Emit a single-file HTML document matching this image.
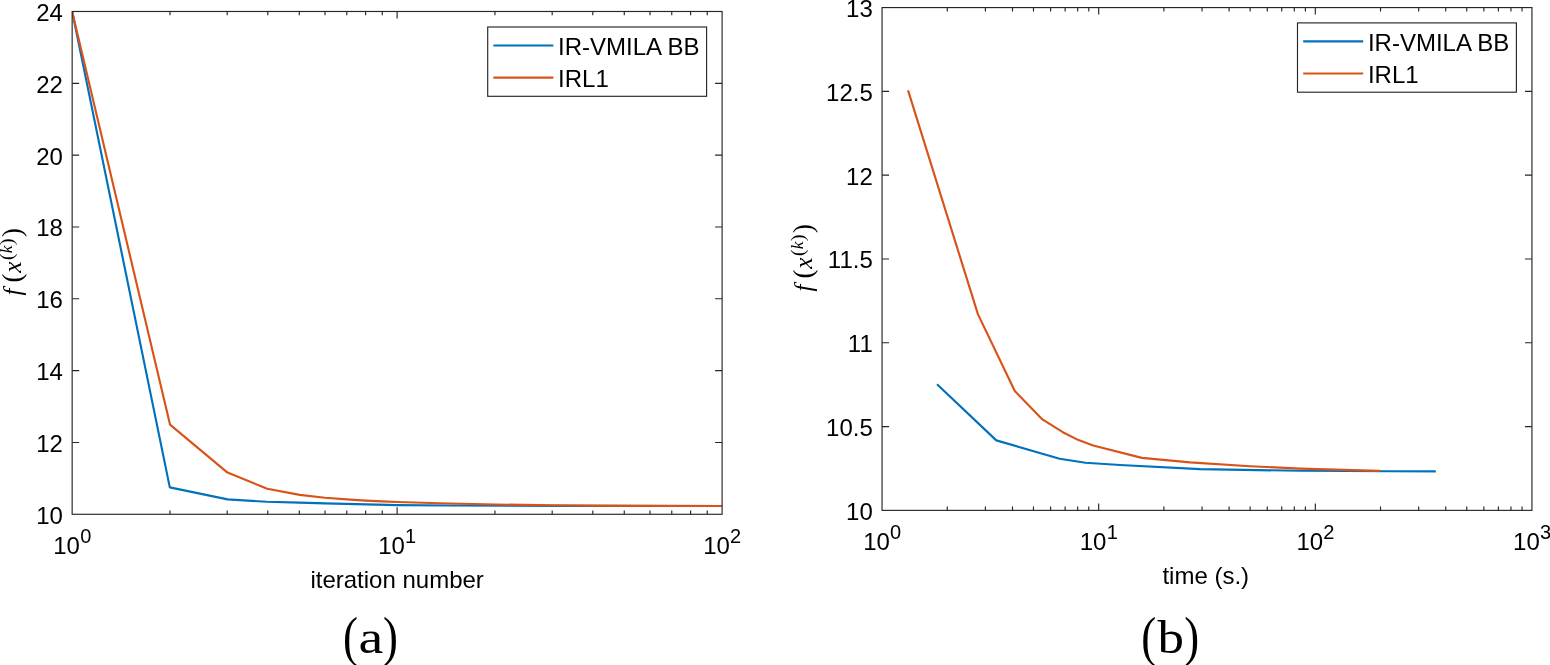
<!DOCTYPE html><html><head><meta charset="utf-8"><style>html,body{margin:0;padding:0;background:#fff;overflow:hidden}svg{display:block}</style><style>.tl{font-family:"Liberation Sans",sans-serif;font-size:24px;fill:#000}.sup{font-family:"Liberation Sans",sans-serif;font-size:20px;fill:#000}.yl{font-family:"Liberation Serif",serif;font-size:25px;fill:#000}.cap{font-family:"Liberation Serif",serif;font-size:48px;fill:#000}</style></head><body><svg width="1550" height="665" viewBox="0 0 1550 665"><rect width="1550" height="665" fill="#fff"/><clipPath id="c72"><rect x="72.15" y="11.48" width="649.95" height="502.8"/></clipPath><g clip-path="url(#c72)" fill="none" stroke-width="2.15" stroke-linejoin="round" stroke-linecap="butt"><polyline stroke="#0072BD" points="72.15,11.48 169.8,487.4 227.6,499.4 266.8,501.8 299.3,502.6 325,503.4 397.1,505.1 450,505.5 560,505.85 722.1,506"/><polyline stroke="#D95319" points="72.15,11.48 170,424.6 227.5,472.6 267.2,488.7 299.8,494.9 324.9,497.7 346.8,499.4 365.7,500.6 382.3,501.4 397.1,502 440,503.2 495,504.5 552,505.3 590,505.6 650,505.85 722.1,506"/></g><path d="M169.98 514.28v-3.8M169.98 11.48v3.8M227.2 514.28v-3.8M227.2 11.48v3.8M267.8 514.28v-3.8M267.8 11.48v3.8M299.3 514.28v-3.8M299.3 11.48v3.8M325.03 514.28v-3.8M325.03 11.48v3.8M346.79 514.28v-3.8M346.79 11.48v3.8M365.63 514.28v-3.8M365.63 11.48v3.8M382.25 514.28v-3.8M382.25 11.48v3.8M397.12 514.28v-7.0M397.12 11.48v7.0M494.95 514.28v-3.8M494.95 11.48v3.8M552.18 514.28v-3.8M552.18 11.48v3.8M592.78 514.28v-3.8M592.78 11.48v3.8M624.27 514.28v-3.8M624.27 11.48v3.8M650 514.28v-3.8M650 11.48v3.8M671.76 514.28v-3.8M671.76 11.48v3.8M690.61 514.28v-3.8M690.61 11.48v3.8M707.23 514.28v-3.8M707.23 11.48v3.8M72.15 442.45h7.0M722.1 442.45h-7.0M72.15 370.62h7.0M722.1 370.62h-7.0M72.15 298.79h7.0M722.1 298.79h-7.0M72.15 226.97h7.0M722.1 226.97h-7.0M72.15 155.14h7.0M722.1 155.14h-7.0M72.15 83.31h7.0M722.1 83.31h-7.0" stroke="#262626" stroke-width="1.15" fill="none"/><rect x="72.15" y="11.48" width="649.95" height="502.8" fill="none" stroke="#262626" stroke-width="1.15"/><text x="62.85" y="523.68" text-anchor="end" class="tl">10</text><text x="62.85" y="451.85" text-anchor="end" class="tl">12</text><text x="62.85" y="380.02" text-anchor="end" class="tl">14</text><text x="62.85" y="308.19" text-anchor="end" class="tl">16</text><text x="62.85" y="236.37" text-anchor="end" class="tl">18</text><text x="62.85" y="164.54" text-anchor="end" class="tl">20</text><text x="62.85" y="92.71" text-anchor="end" class="tl">22</text><text x="62.85" y="20.88" text-anchor="end" class="tl">24</text><text x="53.25" y="553.78" class="tl">10</text><text x="80.15" y="543.08" class="sup">0</text><text x="378.23" y="553.78" class="tl">10</text><text x="405.12" y="543.08" class="sup">1</text><text x="703.2" y="553.78" class="tl">10</text><text x="730.1" y="543.08" class="sup">2</text><text x="397.12" y="587.7" text-anchor="middle" class="tl">iteration number</text><rect x="487.7" y="27" width="218.9" height="69.3" fill="#fff" stroke="#262626" stroke-width="1.15"/><path d="M493.4 45.45h60" stroke="#0072BD" stroke-width="2.15"/><path d="M493.4 77.55h60" stroke="#D95319" stroke-width="2.15"/><text x="558.1" y="55.1" class="tl">IR-VMILA BB</text><text x="558.1" y="87.2" class="tl">IRL1</text><text transform="translate(0,297) rotate(-90)" class="yl"><tspan x="1.6" y="21.4" font-size="25" font-style="italic">f</tspan><tspan x="14.4" y="21.4" font-size="27" font-style="normal">(</tspan><tspan x="24.3" y="21.4" font-size="25.5" font-style="italic">x</tspan><tspan x="36.9" y="12.9" font-size="19.5" font-style="normal">(</tspan><tspan x="43.65" y="12.4" font-size="17.5" font-style="italic">k</tspan><tspan x="52.1" y="12.9" font-size="19.5" font-style="normal">)</tspan><tspan x="59.9" y="21.4" font-size="27" font-style="normal">)</tspan></text><clipPath id="c882"><rect x="882.05" y="7.58" width="649.9" height="502.8"/></clipPath><g clip-path="url(#c882)" fill="none" stroke-width="2.15" stroke-linejoin="round" stroke-linecap="butt"><polyline stroke="#0072BD" points="937,384.3 996.3,440.4 1059.6,458.8 1085.4,462.7 1120,465 1200,469.1 1300,470.8 1390,471.2 1435.8,471.3"/><polyline stroke="#D95319" points="908.05,90.4 977.9,314.1 1014.8,391 1042.4,419.4 1062.8,432.2 1078.5,440.1 1093.2,445.5 1141.9,457.9 1190,462.4 1250,466.2 1300,468.6 1379.8,470.85"/></g><path d="M947.26 510.38v-3.8M947.26 7.58v3.8M985.41 510.38v-3.8M985.41 7.58v3.8M1012.48 510.38v-3.8M1012.48 7.58v3.8M1033.47 510.38v-3.8M1033.47 7.58v3.8M1050.62 510.38v-3.8M1050.62 7.58v3.8M1065.13 510.38v-3.8M1065.13 7.58v3.8M1077.69 510.38v-3.8M1077.69 7.58v3.8M1088.77 510.38v-3.8M1088.77 7.58v3.8M1098.68 510.38v-7.0M1098.68 7.58v7.0M1163.9 510.38v-3.8M1163.9 7.58v3.8M1202.04 510.38v-3.8M1202.04 7.58v3.8M1229.11 510.38v-3.8M1229.11 7.58v3.8M1250.1 510.38v-3.8M1250.1 7.58v3.8M1267.26 510.38v-3.8M1267.26 7.58v3.8M1281.76 510.38v-3.8M1281.76 7.58v3.8M1294.32 510.38v-3.8M1294.32 7.58v3.8M1305.4 510.38v-3.8M1305.4 7.58v3.8M1315.32 510.38v-7.0M1315.32 7.58v7.0M1380.53 510.38v-3.8M1380.53 7.58v3.8M1418.68 510.38v-3.8M1418.68 7.58v3.8M1445.74 510.38v-3.8M1445.74 7.58v3.8M1466.74 510.38v-3.8M1466.74 7.58v3.8M1483.89 510.38v-3.8M1483.89 7.58v3.8M1498.39 510.38v-3.8M1498.39 7.58v3.8M1510.96 510.38v-3.8M1510.96 7.58v3.8M1522.04 510.38v-3.8M1522.04 7.58v3.8M882.05 426.58h7.0M1531.95 426.58h-7.0M882.05 342.78h7.0M1531.95 342.78h-7.0M882.05 258.98h7.0M1531.95 258.98h-7.0M882.05 175.18h7.0M1531.95 175.18h-7.0M882.05 91.38h7.0M1531.95 91.38h-7.0" stroke="#262626" stroke-width="1.15" fill="none"/><rect x="882.05" y="7.58" width="649.9" height="502.8" fill="none" stroke="#262626" stroke-width="1.15"/><text x="872.75" y="519.78" text-anchor="end" class="tl">10</text><text x="872.75" y="435.98" text-anchor="end" class="tl">10.5</text><text x="872.75" y="352.18" text-anchor="end" class="tl">11</text><text x="872.75" y="268.38" text-anchor="end" class="tl">11.5</text><text x="872.75" y="184.58" text-anchor="end" class="tl">12</text><text x="872.75" y="100.78" text-anchor="end" class="tl">12.5</text><text x="872.75" y="16.98" text-anchor="end" class="tl">13</text><text x="863.15" y="549.88" class="tl">10</text><text x="890.05" y="539.18" class="sup">0</text><text x="1079.78" y="549.88" class="tl">10</text><text x="1106.68" y="539.18" class="sup">1</text><text x="1296.42" y="549.88" class="tl">10</text><text x="1323.32" y="539.18" class="sup">2</text><text x="1513.05" y="549.88" class="tl">10</text><text x="1539.95" y="539.18" class="sup">3</text><text x="1205.8" y="583.7" text-anchor="middle" class="tl">time (s.)</text><rect x="1297.5" y="22.9" width="218.9" height="69.3" fill="#fff" stroke="#262626" stroke-width="1.15"/><path d="M1303.2 41.35h60" stroke="#0072BD" stroke-width="2.15"/><path d="M1303.2 73.45h60" stroke="#D95319" stroke-width="2.15"/><text x="1367.9" y="51" class="tl">IR-VMILA BB</text><text x="1367.9" y="83.1" class="tl">IRL1</text><text transform="translate(790.8,293) rotate(-90)" class="yl"><tspan x="1.6" y="21.4" font-size="25" font-style="italic">f</tspan><tspan x="14.4" y="21.4" font-size="27" font-style="normal">(</tspan><tspan x="24.3" y="21.4" font-size="25.5" font-style="italic">x</tspan><tspan x="36.9" y="12.9" font-size="19.5" font-style="normal">(</tspan><tspan x="43.65" y="12.4" font-size="17.5" font-style="italic">k</tspan><tspan x="52.1" y="12.9" font-size="19.5" font-style="normal">)</tspan><tspan x="59.9" y="21.4" font-size="27" font-style="normal">)</tspan></text><text transform="translate(343.11,655) scale(0.83,1)" class="cap" style="font-size:54px">(</text><text transform="translate(358.5,652.9) scale(1.2,1)" class="cap" style="font-size:46.5px">a</text><text transform="translate(383.06,655) scale(0.83,1)" class="cap" style="font-size:54px">)</text><text transform="translate(1141.21,655) scale(0.83,1)" class="cap" style="font-size:54px">(</text><text transform="translate(1157.5,653.3) scale(1.12,1)" class="cap" style="font-size:47.3px">b</text><text transform="translate(1184.16,655) scale(0.83,1)" class="cap" style="font-size:54px">)</text></svg></body></html>
